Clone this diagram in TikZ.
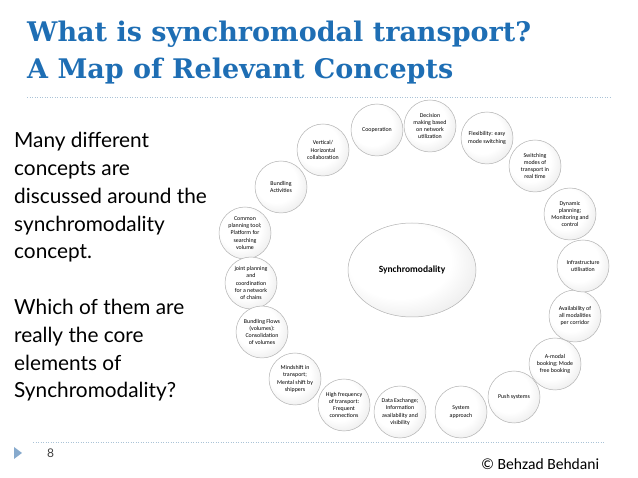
\documentclass[tikz,border=0pt]{standalone}
\usepackage{fontspec}
\setmainfont{Carlito}
\newfontfamily\headfont{DejaVu Serif}
\newfontfamily\bodyfont{Lato}
\usetikzlibrary{shapes.geometric}
\definecolor{headblue}{RGB}{30,110,180}
\definecolor{rulegray}{RGB}{170,195,215}
\definecolor{bulletblue}{RGB}{135,170,205}
\pgfdeclareradialshading{bubble}{\pgfpoint{-8bp}{8bp}}{color(0bp)=(white); color(20bp)=(white); color(50bp)=(black!20)}

\begin{document}
\begin{tikzpicture}[x=1pt, y=-1pt,
  bubble/.style={circle, draw=black!30, line width=0.5pt, minimum size=52pt, inner sep=0pt, shade, shading=bubble, align=center, font=\fontsize{5.9}{7.3}\selectfont},
  core/.style={ellipse, draw=black!30, line width=0.5pt, minimum width=128pt, minimum height=94pt, inner sep=0pt, shade, shading=bubble, font=\bfseries\fontsize{9.5}{11}\selectfont}]
\useasboundingbox (0,0) rectangle (638,478);
\node[anchor=base west, inner sep=0pt, align=left, text=headblue, font=\headfont\bfseries\fontsize{27}{37}\selectfont] (title) at (27,79) {What is synchromodal transport?\\A Map of Relevant Concepts};
\draw[rulegray, line width=1pt, dash pattern=on 1pt off 1.5pt] (27,98) -- (612,98);
\node[anchor=base west, inner sep=0pt, align=left, font=\bodyfont\fontsize{20.8}{27.8}\selectfont] (intro) at (14,398) {Many different\\concepts are\\discussed around the\\synchromodality\\concept.\\[27.8pt]Which of them are\\really the core\\elements of\\Synchromodality?};
\node[core] (sync) at (412,270) {Synchromodality};
\node[bubble] (decision) at (430,126) {Decision\\making based\\on network\\utilization};
\node[bubble] (coop) at (377,130) {Cooperation};
\node[bubble] (vertical) at (323,150) {Vertical/\\Horizontal\\collaboration};
\node[bubble] (bundact) at (281,187) {Bundling\\Activities};
\node[bubble] (common) at (245,233) {Common\\planning tool;\\Platform for\\searching\\volume};
\node[bubble] (joint) at (251,283) {joint planning\\and\\coordination\\for a network\\of chains};
\node[bubble] (bflows) at (262,332) {Bundling Flows\\(volumes):\\Consolidation\\of volumes};
\node[bubble] (mindshift) at (295,379) {Mindshift in\\transport;\\Mental shift by\\shippers};
\node[bubble] (highfreq) at (344,405) {High frequency\\of transport:\\Frequent\\connections};
\node[bubble] (dataex) at (400,412) {Data Exchange;\\Information\\availability and\\visibility};
\node[bubble] (sysapp) at (461,412) {System\\approach};
\node[bubble] (push) at (514,397) {Push systems};
\node[bubble] (amodal) at (555,364) {A-modal\\booking; Mode\\free booking};
\node[bubble] (avail) at (575,316) {Availability of\\all modalities\\per corridor};
\node[bubble] (infra) at (583,266) {Infrastructure\\utilisation};
\node[bubble] (dynamic) at (570,214) {Dynamic\\planning;\\Monitoring and\\control};
\node[bubble] (switching) at (535,166) {Switching\\modes of\\transport in\\real time};
\node[bubble] (flex) at (487,138) {Flexibility: easy\\mode switching};
\draw[rulegray, line width=1pt, dash pattern=on 1pt off 1.5pt] (33,443) -- (605,443);
\fill[bulletblue] (14,447) -- (22,453) -- (14,459) -- cycle;
\node[anchor=base west, inner sep=0pt, text=black!75, font=\bodyfont\fontsize{12}{14}\selectfont] (page) at (47,458) {8};
\node[anchor=base west, inner sep=0pt, font=\fontsize{15.6}{19}\selectfont] (credit) at (481,470) {© Behzad Behdani};
\end{tikzpicture}
\end{document}
